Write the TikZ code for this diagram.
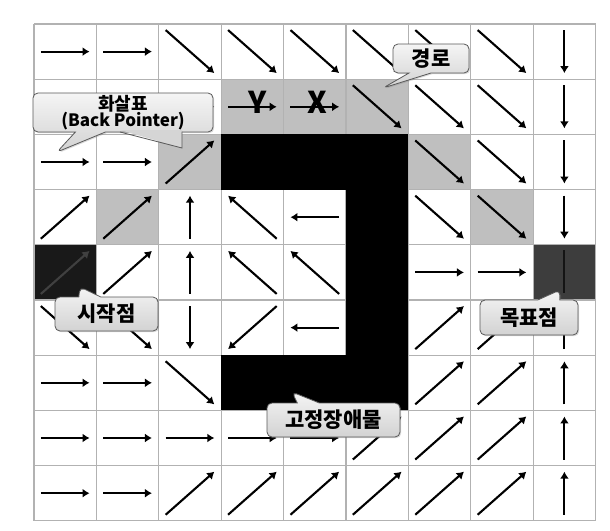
\documentclass[tikz,border=0pt]{standalone}
\usepackage{fontspec}
\setmainfont{Noto Sans CJK KR}
\usetikzlibrary{arrows.meta, shapes.callouts, shadows}

\begin{document}
\begin{tikzpicture}[x=1pt, y=-1pt,
            grid line/.style={draw=gray!60, line width=1.2pt},
            cell arrow/.style={line width=2.1pt, -{Latex[length=7pt, width=9pt]}},
            tip box/.style={rectangle callout, rounded corners=5pt, draw=black!65, line width=0.8pt,
                top color=gray!8, bottom color=gray!35, callout pointer width=22pt, inner sep=2pt,
                font=\bfseries\fontsize{21}{23}\selectfont,
                drop shadow={opacity=0.3, shadow xshift=1.2pt, shadow yshift=-1.2pt}}]
    \useasboundingbox[fill=white] (0,0) rectangle (610,530);

    \begin{scope}[shift={(34,24)}, x=62.4pt, y=-55.2pt]
    % Cells
    \foreach \c/\r in {3/1, 4/1, 5/1, 2/2, 6/2, 1/3, 7/3}
        \fill[gray!50] (\c,\r) rectangle +(1,1);
    \fill[black!90] (0,4) rectangle +(1,1);
    \fill[black!76] (8,4) rectangle +(1,1);

    % Grid
    \foreach \i in {0,...,9} {
        \draw[grid line] (\i,0) -- (\i,9);
        \draw[grid line] (0,\i) -- (9,\i);
    }

    % Back pointers
    \foreach \r/\row in {
        0/{1/0,1/0,1/1,1/1,1/1,1/1,1/1,1/1,0/1},
        1/{1/0,1/0,1/0,1/0,1/0,1/1,1/1,1/1,0/1},
        2/{1/0,1/0,1/-1,0/0,0/0,0/0,1/1,1/1,0/1},
        3/{1/-1,1/-1,0/-1,-1/-1,-1/0,0/0,1/1,1/1,0/1},
        4/{0/0,1/-1,0/-1,-1/-1,-1/-1,0/0,1/0,1/0,0/0},
        5/{1/1,1/1,0/1,-1/1,-1/0,0/0,1/-1,1/-1,0/-1},
        6/{1/0,1/0,1/1,0/0,0/0,0/0,1/-1,1/-1,0/-1},
        7/{1/0,1/0,1/0,1/0,1/0,1/-1,1/-1,1/-1,0/-1},
        8/{1/0,1/0,1/-1,1/-1,1/-1,1/-1,1/-1,1/-1,0/-1}} {
        \foreach \dx/\dy [count=\c from 0] in \row {
            \pgfmathtruncatemacro\arrlen{abs(\dx)+abs(\dy)}
            \ifnum\arrlen>0
                \draw[cell arrow] ({\c+.5-.39*\dx}, {\r+.5-.39*\dy}) -- ({\c+.5+.39*\dx}, {\r+.5+.39*\dy});
            \fi
        }
    }
    \draw[cell arrow, black!75] (.11,4.89) -- (.89,4.11);
    \draw[line width=2.1pt, black!92] (8.5,4.1) -- (8.5,4.88);

    % Obstacle
    \fill (3,2) rectangle (6,3);
    \fill (5,3) rectangle (6,6);
    \fill (3,6) rectangle (6,7);

    % Y and X marks
    \node[font=\bfseries\fontsize{30}{30}\selectfont, inner sep=0] (mark y) at (3.59,1.42) {Y};
    \node[font=\bfseries\fontsize{30}{30}\selectfont, inner sep=0] (mark x) at (4.54,1.42) {X};
    \end{scope}

    % Callouts
    \node[tip box, minimum width=180pt, minimum height=39pt, align=center, callout pointer width=30pt,
        font=\bfseries\fontsize{17}{18}\selectfont, callout absolute pointer={(57,152)}]
        (backptr) at (123,112.5) {{\fontsize{18}{18}\selectfont 화살표}\\[-2pt](Back Pointer)};
    \fill[gray!33] (120,130) -- (182,148) -- (182,130) -- cycle;
    \draw[draw=black!65, line width=0.8pt] (120,132) -- (182,148) -- (182,131.5);

    \node[tip box, minimum width=76pt, minimum height=29pt, callout absolute pointer={(383,88)}]
        (route) at (431,58.5) {경로};
    \node[tip box, minimum width=103pt, minimum height=34pt, callout absolute pointer={(80,287)}]
        (start) at (106.5,314) {시작점};
    \node[tip box, minimum width=98pt, minimum height=35pt, callout absolute pointer={(560,290)}]
        (goal) at (529,317.5) {목표점};
    \node[tip box, minimum width=133pt, minimum height=34pt, callout absolute pointer={(292,392)}]
        (wall) at (333.5,420) {고정장애물};
\end{tikzpicture}
\end{document}
